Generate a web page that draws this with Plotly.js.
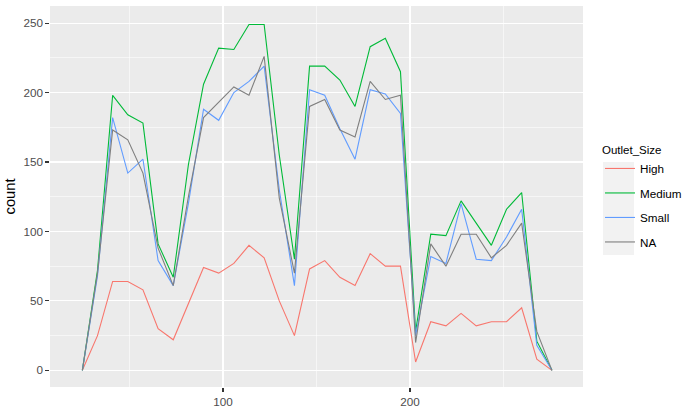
<!DOCTYPE html>
<html>
<head>
<meta charset="utf-8">
<script src="https://cdn.plot.ly/plotly-3.0.1.min.js"></script>
<style>html,body{margin:0;padding:0;background:#fff;}#chart{width:693px;height:410px;}</style>
</head>
<body>
<div id="chart"></div>
<script>
// bin centres (x) of the frequency polygon
const binCenters = [24.8, 32.9, 41.0, 49.1, 57.2, 65.3, 73.4, 81.5, 89.6, 97.7, 105.8, 113.9, 122.0, 130.1, 138.2, 146.3,
                    154.4, 162.5, 170.6, 178.7, 186.8, 194.9, 203.0, 211.1, 219.2, 227.3, 235.4, 243.5, 251.6, 259.7, 267.8, 275.9];
const seriesNames = ["High", "Medium", "Small", "NA"];
const countHigh   = [0, 25, 64, 64, 58, 30, 22, 48, 74, 70, 77, 90, 81, 50, 25, 73, 79, 67, 61, 84, 75, 75, 6, 35, 32, 41, 32, 35, 35, 45, 8, 0];
const countMedium = [0, 72, 198, 184, 178, 91, 67, 148, 206, 232, 231, 249, 249, 155, 80, 219, 219, 209, 190, 233, 239, 215, 28, 98, 97, 122, 106, 90, 116, 128, 21, 0];
const countSmall  = [0, 68, 182, 142, 152, 79, 61, 120, 188, 180, 200, 208, 219, 130, 61, 202, 198, 174, 152, 202, 199, 185, 25, 82, 77, 120, 80, 79, 96, 116, 18, 0];
const countNA     = [0, 70, 173, 166, 142, 88, 61, 125, 182, 193, 204, 198, 226, 124, 70, 190, 195, 173, 168, 208, 195, 198, 20, 91, 75, 98, 98, 81, 90, 106, 28, 0];
const xTickVals = [100, 200];
const yTickVals = [0, 50, 100, 150, 200, 250];
const legendTitle = "Outlet_Size";

const colors = ["#F8766D", "#00BA38", "#619CFF", "#7F7F7F"];
const allCounts = [countHigh, countMedium, countSmall, countNA];

const traces = seriesNames.map((n, i) => ({
  type: "scatter", mode: "lines", name: n, legendgroup: n,
  x: binCenters, y: allCounts[i],
  line: {color: colors[i], width: 1.1},
  hoverinfo: "skip"
}));

const FONT = "Liberation Sans, Arial, sans-serif";
// plot area in px: x 50..583, y 6..387
const pxX = px => (px - 50) / 533;
const pxY = py => (387 - py) / 381;

const layout = {
  width: 693, height: 410,
  margin: {l: 50, r: 110, t: 6, b: 23, pad: 0, autoexpand: false},
  paper_bgcolor: "#FFFFFF", plot_bgcolor: "#EBEBEB",
  font: {family: FONT, color: "#000000", size: 12},
  showlegend: true,
  legend: {
    x: pxX(600), xanchor: "left", y: pxY(139), yanchor: "top",
    bgcolor: "rgba(0,0,0,0)", traceorder: "grouped", tracegroupgap: 5.5,
    itemwidth: 30,
    font: {family: FONT, size: 11.7, color: "#000000"},
    title: {text: legendTitle, font: {family: FONT, size: 11.5, color: "#000000"}}
  },
  shapes: [{
    type: "rect", xref: "paper", yref: "paper", layer: "below",
    x0: pxX(603), x1: pxX(634), y0: pxY(162), y1: pxY(255),
    fillcolor: "#F2F2F2", line: {width: 0}
  }],
  xaxis: {
    range: [7.5, 292.5], tickvals: xTickVals, ticktext: xTickVals.map(String),
    showgrid: true, gridcolor: "#FFFFFF", gridwidth: 1.1, zeroline: false, showline: false,
    ticks: "outside", ticklen: 3.7, tickwidth: 1.1, tickcolor: "#333333",
    tickfont: {family: FONT, size: 11.7, color: "#4D4D4D"},
    minor: {tickvals: [50, 150, 250], showgrid: true, gridcolor: "#FFFFFF", gridwidth: 0.55, ticks: ""},
    title: {text: ""}
  },
  yaxis: {
    range: [-12.0, 262.3], tickvals: yTickVals, ticktext: yTickVals.map(String),
    showgrid: true, gridcolor: "#FFFFFF", gridwidth: 1.1, zeroline: false, showline: false,
    ticks: "outside", ticklen: 3.7, tickwidth: 1.1, tickcolor: "#333333",
    tickfont: {family: FONT, size: 11.7, color: "#4D4D4D"},
    minor: {tickvals: [25, 75, 125, 175, 225], showgrid: true, gridcolor: "#FFFFFF", gridwidth: 0.55, ticks: ""},
    title: {text: "count", font: {family: FONT, size: 14.7, color: "#000000"}, standoff: 4}
  }
};

Plotly.newPlot("chart", traces, layout, {displayModeBar: false, staticPlot: true});
</script>
</body>
</html>
